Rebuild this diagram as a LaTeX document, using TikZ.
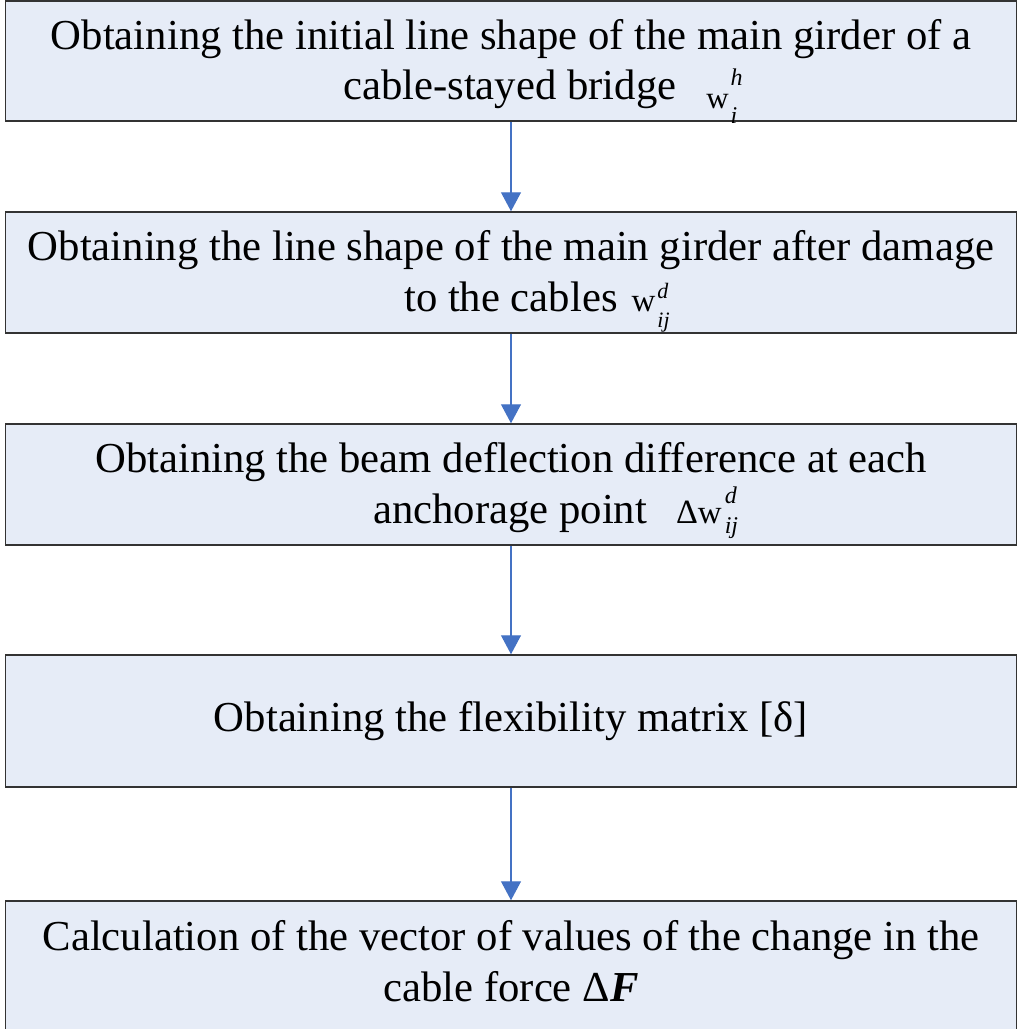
\documentclass[tikz,border=0pt]{standalone}
\usepackage{fontspec}
\setmainfont{Liberation Serif}
\usetikzlibrary{arrows.meta}
\definecolor{boxfill}{HTML}{E6ECF7}
\definecolor{boxline}{HTML}{333333}
\definecolor{arrowblue}{HTML}{4472C4}
% #1 script size, #2 sup raise, #3 sup, #4 sub lower, #5 sub
\newcommand{\mySS}[5]{\rlap{\raisebox{#2pt}{\fontsize{#1}{#1}\selectfont\itshape #3}}\raisebox{-#4pt}{\fontsize{#1}{#1}\selectfont\itshape #5}}
\newcommand{\fw}[1]{{\fontsize{#1}{#1}\selectfont w}}
\tikzset{
  stepbox/.style={draw=boxline, fill=boxfill, line width=1.5pt, rectangle,
    minimum width=1011pt, inner sep=0pt},
  steptext/.style={inner sep=0pt, font=\fontsize{42.7}{50}\selectfont},
  flowarrow/.style={draw=arrowblue, line width=1.3pt,
    -{Triangle[width=20pt,length=19pt]}}
}
\begin{document}
\begin{tikzpicture}[x=1pt,y=-1pt]
\useasboundingbox (0,0) rectangle (1021,1029);
% boxes
\node[stepbox, minimum height=120pt] (b1) at (511,61) {};
\node[stepbox, minimum height=121pt] (b2) at (511,272.5) {};
\node[stepbox, minimum height=121pt] (b3) at (511,484.5) {};
\node[stepbox, minimum height=132pt] (b4) at (511,721) {};
\node[stepbox, minimum height=134pt] (b5) at (511,968) {};
% texts
\node[steptext, anchor=base] (t1a) at (511,49)
  {Obtaining the initial line shape of the main girder of a};
\node[steptext, anchor=base west] (t1b) at (343,99)
  {cable-stayed bridge\hspace{30pt}\raisebox{-9pt}{\fw{31}\hspace{2pt}\mySS{24}{23}{h}{15}{i}}};
\node[steptext, anchor=base] (t2a) at (511,260)
  {Obtaining the line shape of the main girder after damage};
\node[steptext, anchor=base west] (t2b) at (404,311)
  {to the cables\hspace{14pt}\fw{33}\hspace{2pt}\mySS{22}{13}{d}{16}{ij}};
\node[steptext, anchor=base] (t3a) at (511,472)
  {Obtaining the beam deflection difference at each};
\node[steptext, anchor=base west] (t3b) at (373,523)
  {anchorage point\hspace{29pt}{\fontsize{34}{34}\selectfont Δ}\fw{33}\hspace{3pt}\mySS{24}{20}{d}{10}{ij}};
\node[steptext, anchor=base] (t4) at (511,731)
  {Obtaining the flexibility matrix [δ]};
\node[steptext, anchor=base] (t5a) at (511,950)
  {Calculation of the vector of values of the change in the};
\node[steptext, anchor=base] (t5b) at (511,1001)
  {cable force Δ\textbf{\textit{F}}};
% connectors
\draw[flowarrow] (b1.south) -- (b2.north);
\draw[flowarrow] (b2.south) -- (b3.north);
\draw[flowarrow] (b3.south) -- (b4.north);
\draw[flowarrow] (b4.south) -- (b5.north);
\end{tikzpicture}
\end{document}
